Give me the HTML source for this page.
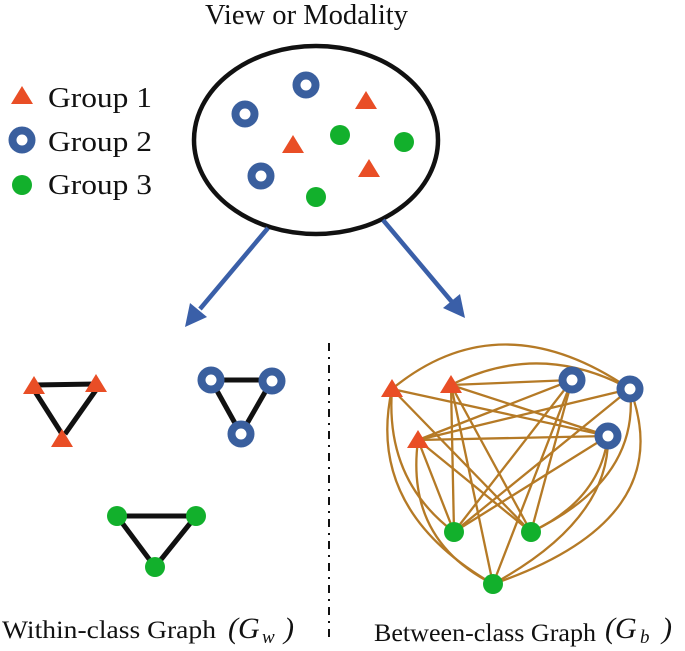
<!DOCTYPE html>
<html><head><style>
html,body{margin:0;padding:0;background:#fff;}
svg{display:block;}
text{font-family:"Liberation Serif",serif;fill:#111;}
</style></head><body>
<svg width="685" height="651" viewBox="0 0 685 651" xmlns="http://www.w3.org/2000/svg">
<defs>
<g id="tri"><polygon points="0,-11 11,7 -11,7" fill="#e94e26"/></g>
<g id="ring"><circle r="9.5" fill="#fff" stroke="#3a5f9e" stroke-width="8"/></g>
<g id="dot"><circle r="10" fill="#12b02c"/></g>
</defs>
<text x="205" y="24" font-size="28" textLength="203" lengthAdjust="spacingAndGlyphs">View or Modality</text>
<use href="#tri" x="22" y="97"/><text x="48" y="107" font-size="28" textLength="104" lengthAdjust="spacingAndGlyphs">Group 1</text>
<use href="#ring" x="22" y="140"/><text x="48" y="151" font-size="28" textLength="104" lengthAdjust="spacingAndGlyphs">Group 2</text>
<use href="#dot" x="22" y="185"/><text x="48" y="194" font-size="28" textLength="104" lengthAdjust="spacingAndGlyphs">Group 3</text>
<ellipse cx="316" cy="140" rx="122" ry="94" fill="none" stroke="#111" stroke-width="4.5"/>
<use href="#ring" x="245" y="114"/><use href="#ring" x="306" y="85"/><use href="#ring" x="261" y="176"/>
<use href="#tri" x="366" y="102"/><use href="#tri" x="293" y="146"/><use href="#tri" x="369" y="170"/>
<use href="#dot" x="340" y="135"/><use href="#dot" x="404" y="142"/><use href="#dot" x="316" y="197"/>
<g stroke="#3a5fa8" stroke-width="4.5" fill="#3a5fa8">
<line x1="268" y1="228" x2="200" y2="309"/>
<line x1="383" y1="220" x2="452" y2="302"/>
</g>
<polygon points="185,327 190,303 207,317" fill="#3a5fa8"/>
<polygon points="465,318 443,308 460,294" fill="#3a5fa8"/>
<g stroke="#111" stroke-width="5">
<line x1="34" y1="385" x2="96" y2="384"/><line x1="34" y1="390" x2="62" y2="434"/><line x1="96" y1="390" x2="65" y2="434"/>
<line x1="211" y1="380" x2="272" y2="380"/><line x1="211" y1="380" x2="241" y2="434"/><line x1="272" y1="380" x2="241" y2="434"/>
<line x1="117" y1="516" x2="196" y2="516"/><line x1="117" y1="516" x2="155" y2="567"/><line x1="196" y1="516" x2="155" y2="567"/>
</g>
<use href="#tri" x="34" y="387"/><use href="#tri" x="96" y="385"/><use href="#tri" x="62" y="440"/>
<use href="#ring" x="211" y="380"/><use href="#ring" x="272" y="381"/><use href="#ring" x="241" y="434"/>
<use href="#dot" x="117" y="516"/><use href="#dot" x="196" y="516"/><use href="#dot" x="155" y="567"/>
<line x1="329" y1="343" x2="329" y2="642" stroke="#111" stroke-width="2" stroke-dasharray="8,6,2,6"/>
<g stroke="#b57a26" stroke-width="2.3" fill="none">
<path d="M392,389 Q500,300 630,389"/>
<path d="M451,385 Q540,340 630,389"/>
<path d="M392,389 Q365,510 493,584"/>
<path d="M392,389 Q385,480 454,532"/>
<path d="M418,440 Q405,540 493,584"/>
<path d="M630,389 Q680,520 493,584"/>
<path d="M630,389 Q640,480 531,532"/>
<path d="M608,436 Q610,520 493,584"/>
<path d="M608,436 Q600,500 531,532"/>
<line x1="392" y1="389" x2="608" y2="436"/>
<line x1="392" y1="389" x2="531" y2="532"/>
<line x1="451" y1="385" x2="572" y2="380"/>
<line x1="451" y1="385" x2="608" y2="436"/>
<line x1="451" y1="385" x2="454" y2="532"/>
<line x1="451" y1="385" x2="531" y2="532"/>
<line x1="451" y1="385" x2="493" y2="584"/>
<line x1="418" y1="440" x2="572" y2="380"/>
<line x1="418" y1="440" x2="630" y2="389"/>
<line x1="418" y1="440" x2="608" y2="436"/>
<line x1="418" y1="440" x2="454" y2="532"/>
<line x1="418" y1="440" x2="531" y2="532"/>
<line x1="572" y1="380" x2="454" y2="532"/>
<line x1="572" y1="380" x2="531" y2="532"/>
<line x1="572" y1="380" x2="493" y2="584"/>
<line x1="630" y1="389" x2="454" y2="532"/>
<line x1="608" y1="436" x2="454" y2="532"/>
</g>
<use href="#tri" x="392" y="390"/><use href="#tri" x="451" y="386"/><use href="#tri" x="418" y="441"/>
<use href="#ring" x="572" y="380"/><use href="#ring" x="630" y="389"/><use href="#ring" x="608" y="436"/>
<use href="#dot" x="454" y="532"/><use href="#dot" x="531" y="532"/><use href="#dot" x="493" y="584"/>
<text x="2" y="638" font-size="25" textLength="214" lengthAdjust="spacingAndGlyphs">Within-class Graph</text>
<text y="638" font-size="30" font-style="italic"><tspan x="228">(</tspan><tspan x="238">G</tspan><tspan x="262" y="643" font-size="19">w</tspan><tspan x="284" y="638">)</tspan></text>
<text x="374" y="641" font-size="25" textLength="222" lengthAdjust="spacingAndGlyphs">Between-class Graph</text>
<text y="638" font-size="30" font-style="italic"><tspan x="605">(</tspan><tspan x="615">G</tspan><tspan x="640" y="643" font-size="19">b</tspan><tspan x="662" y="638">)</tspan></text>
</svg>
</body></html>
